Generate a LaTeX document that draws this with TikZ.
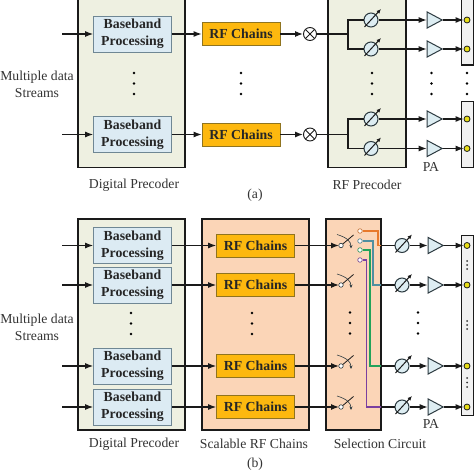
\documentclass[tikz,border=0pt]{standalone}
\usepackage{fontspec}
\setmainfont{Liberation Serif}
\usetikzlibrary{shapes.geometric,arrows.meta,calc}
\definecolor{txt}{HTML}{333333}
\definecolor{lineK}{HTML}{1A1A1A}
\definecolor{greenbg}{HTML}{EEF0E1}
\definecolor{orangebg}{HTML}{FBD5B7}
\definecolor{bbfill}{HTML}{DCEBF3}
\definecolor{bbline}{HTML}{6F8794}
\definecolor{rffill}{HTML}{FDB80F}
\definecolor{rfline}{HTML}{8F7420}
\definecolor{icefill}{HTML}{DDEDF2}
\definecolor{icoline}{HTML}{2C3A40}
\definecolor{panelbg}{HTML}{F1F1F1}
\definecolor{wOrange}{HTML}{E8792B}
\definecolor{wTeal}{HTML}{4F8FA0}
\definecolor{wGreen}{HTML}{22A35A}
\definecolor{wPurple}{HTML}{7A3FA0}
\tikzset{
  x=1pt,y=-1pt,
  groupbox/.style={draw=lineK,line width=1.3pt,inner sep=0pt},
  bbbox/.style={draw=bbline,fill=bbfill,line width=0.8pt,minimum width=78pt,minimum height=36pt,inner sep=0pt,align=center,font=\fontsize{13.8}{16.8}\selectfont\bfseries,text=black!85},
  rfbox/.style={draw=rfline,fill=rffill,line width=0.8pt,minimum width=78pt,minimum height=23pt,inner sep=0pt,font=\fontsize{13.8}{15}\selectfont\bfseries,text=black!85},
  conn/.style={draw=lineK,line width=1.2pt,-{Latex[length=8pt,width=6pt]}},
  plain/.style={draw=lineK,line width=1.2pt},
  mixer/.style={circle,draw=lineK,line width=0.9pt,fill=white,minimum size=13pt,inner sep=0pt,path picture={\draw[line width=0.8pt,lineK] ($(path picture bounding box.center)+(-5,-5)$)--($(path picture bounding box.center)+(5,5)$) ($(path picture bounding box.center)+(5,-5)$)--($(path picture bounding box.center)+(-5,5)$);}},
  shifter/.style={circle,draw=icoline,line width=1pt,fill=icefill,minimum size=14pt,inner sep=0pt},
  pa/.style={isosceles triangle,isosceles triangle apex angle=55,isosceles triangle stretches,draw=icoline,line width=1pt,fill=icefill,minimum width=16pt,minimum height=15pt,inner sep=0pt},
  ant/.style={circle,draw=lineK,line width=0.8pt,fill=yellow!90!black,minimum size=6pt,inner sep=0pt},
  bigdot/.style={circle,fill=black,minimum size=2.8pt,inner sep=0pt},
  smalldot/.style={circle,fill=black!80,minimum size=2pt,inner sep=0pt},
  lab/.style={font=\fontsize{13.7}{17}\selectfont,text=txt,align=center,inner sep=0pt},
  pole/.style={circle,draw=icoline,line width=0.6pt,fill=white,minimum size=4.5pt,inner sep=0pt},
  contact/.style={circle,line width=0.7pt,fill=white,minimum size=4.5pt,inner sep=0pt},
}
\newcommand{\dotcol}[3]{% prefix x ybase
  \foreach \k/\dy in {1/0,2/10.5,3/21}{\node[bigdot] (#1d\k) at (#2,#3+\dy) {};}}
\begin{document}
\begin{tikzpicture}
\useasboundingbox (0,0) rectangle (474,471);
%% ---------- (a)
\node[groupbox,fill=greenbg,minimum width=107pt,minimum height=168pt] (aDP) at (131.5,83.5) {};
\node[groupbox,fill=greenbg,minimum width=78pt,minimum height=168pt] (aRP) at (367,83.5) {};
\node[groupbox,fill=panelbg,minimum width=12pt,minimum height=66pt] (aP1) at (467.5,32) {};
\node[groupbox,fill=panelbg,minimum width=12pt,minimum height=66pt] (aP2) at (467.5,134.5) {};
\foreach \n/\y in {1/34,2/134.5}{
  \coordinate (aIn\n) at (62,\y);
  \node[bbbox] (aBB\n) at (132.5,\y) {Baseband\\Processing};
  \node[rfbox] (aRF\n) at (241,\y) {RF Chains};
  \node[mixer] (aMx\n) at (310,\y) {};
  \draw[conn] (aIn\n) -- (aBB\n.west);
  \draw[conn] (aBB\n.east) -- (aRF\n.west);
  \draw[conn] (aRF\n.east) -- (aMx\n.west);
}
\foreach \n/\y in {1/20,2/49,3/119,4/148.5}{
  \node[shifter] (aPS\n) at (371,\y) {};
  \node[pa] (aPA\n) at (432,\y) {};
  \node[ant] (aAnt\n) at (467,\y) {};
  \draw[conn] (aPS\n.east) -- (aPA\n.west);
  \draw[conn] (aPA\n.apex) -- (aAnt\n.west);
  \draw[line width=1pt,draw=lineK,-{Latex[length=4.5pt,width=4pt]}] (371-6.5,\y+7) -- (371+10,\y-11);
}
\foreach \m/\t/\u/\ya/\yb/\ym in {1/1/2/20/49/34,2/3/4/119/148.5/134.5}{
  \coordinate (aBrT\m) at (348,\ya);
  \coordinate (aBrB\m) at (348,\yb);
  \coordinate (aBrM\m) at (348,\ym);
  \draw[plain] (aMx\m.east) -- (aBrM\m);
  \draw[plain] (aPS\t.west) -- (aBrT\m) -- (aBrB\m) -- (aPS\u.west);
}
\dotcol{aA}{134}{73}\dotcol{aB}{241}{73}\dotcol{aC}{372}{73}\dotcol{aD}{431.5}{73}\dotcol{aE}{467}{73}
\node[lab] (aL1) at (37,84) {Multiple data\\Streams};
\node[lab] (aL2) at (134,185) {Digital Precoder};
\node[lab] (aL3) at (367,185) {RF Precoder};
\node[lab] (aL4) at (431,167) {PA};
\node[lab] (aL5) at (255,195) {(a)};
%% ---------- (b)
\node[groupbox,fill=greenbg,minimum width=107pt,minimum height=211pt] (bDP) at (131.5,324.5) {};
\node[groupbox,fill=orangebg,minimum width=107pt,minimum height=211pt] (bRC) at (255.5,324.5) {};
\node[groupbox,fill=orangebg,minimum width=55pt,minimum height=211pt] (bSC) at (353.5,324.5) {};
\node[groupbox,fill=panelbg,minimum width=12.5pt,minimum height=180pt] (bP) at (467.5,325.5) {};
\foreach \n/\yb in {1/245.5,2/285,3/366,4/407}{
  \coordinate (bIn\n) at (62,\yb);
  \node[bbbox] (bBB\n) at (132.5,\yb) {Baseband\\Processing};
  \node[rfbox] (bRF\n) at (255.5,\yb) {RF Chains};
  \coordinate (bPole\n) at (341,\yb);
  \node[shifter] (bPS\n) at (402,\yb) {};
  \node[pa] (bPA\n) at (433,\yb) {};
  \node[ant] (bAnt\n) at (467,\yb) {};
  \coordinate (bOut\n) at (381,\yb);
  \draw[conn] (bIn\n) -- (bBB\n.west);
  \draw[conn] (bBB\n.east) -- (bRF\n.west);
  \draw[conn] (bRF\n.east) -- ($(bPole\n)+(-2,0)$);
  \draw[plain] (bOut\n) -- (bPS\n.west);
  \draw[conn] (bPS\n.east) -- (bPA\n.west);
  \draw[conn] (bPA\n.apex) -- (bAnt\n.west);
  \draw[line width=1pt,draw=lineK,-{Latex[length=4.5pt,width=4pt]}] (402-6.5,\yb+7) -- (402+10,\yb-11);
  \draw[line width=0.8pt,draw=lineK] (bPole\n) -- ++(12.5,-10.5);
  \draw[line width=0.6pt,draw=icoline,-{Stealth[length=3.5pt,width=3pt]}] ($(bPole\n)+(-4,-11)$) .. controls ($(bPole\n)+(6,-8)$) and ($(bPole\n)+(10,-4)$) .. ($(bPole\n)+(10,3)$);
  \node[pole] (bSw\n) at (bPole\n) {};
}
%% selection wires
\foreach \n/\y/\x/\col/\t in {1/231/378/wOrange/245.5,2/241/373/wTeal/285,3/250/370/wGreen/366,4/260/366.5/wPurple/407}{
  \node[contact,draw=\col!70!gray] (bC\n) at (360,\y) {};
  \coordinate (bW\n a) at (\x,\y);
  \coordinate (bW\n b) at (\x,\t);
  \draw[draw=\col,line width=1.1pt] (bC\n.east) -- (bW\n a) -- (bW\n b) -- (bOut\n);
}
\dotcol{bA}{131}{313}\dotcol{bB}{252}{313}\dotcol{bC}{350}{312.5}\dotcol{bD}{418}{312.5}
\foreach \k/\yy in {1/261,2/265,3/269,4/321,5/325,6/329,7/378,8/382.5,9/387}{\node[smalldot] (bS\k) at (467,\yy) {};}
\node[lab] (bL1) at (37,327) {Multiple data\\Streams};
\node[lab] (bL2) at (134,444) {Digital Precoder};
\node[lab] (bL3) at (254,444) {Scalable RF Chains};
\node[lab] (bL4) at (380,444) {Selection Circuit};
\node[lab] (bL5) at (431,424) {PA};
\node[lab] (bL6) at (255,464) {(b)};
\end{tikzpicture}
\end{document}
